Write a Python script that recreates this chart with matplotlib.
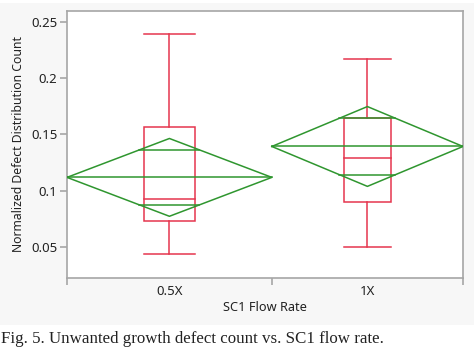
import matplotlib
matplotlib.use("Agg")
import matplotlib.pyplot as plt
from matplotlib.patches import Rectangle
import numpy as np

# quantiles / means per SC1 flow rate group
groups = ["0.5X", "1X"]
group_n = [15, 14]
whisker_lo = [0.044, 0.050]
q1 = [0.0728, 0.0896]
median = [0.0926, 0.129]
q3 = [0.1568, 0.1645]
whisker_hi = [0.2393, 0.2174]
means = [0.1118, 0.1393]
ci_half = [0.0346, 0.0355]

red = '#e5364e'
green = '#2f962f'
grey = '#a6a6a6'

plt.rcParams['font.family'] = ['Noto Sans', 'DejaVu Sans']

fig = plt.figure(figsize=(4.74, 3.48), dpi=100)
fig.patches.append(Rectangle((0, 23 / 348), 1, 322 / 348, transform=fig.transFigure,
                             facecolor='#f7f7f7', edgecolor='none', zorder=-10))
ax = fig.add_axes([67 / 474, 70 / 348, 396 / 474, 267 / 348])
ax.set_facecolor('white')

# group widths proportional to sample size, like a JMP oneway plot
edges = np.concatenate([[0], np.cumsum(group_n)])
centers = (edges[:-1] + edges[1:]) / 2
widths = np.diff(edges)

lw = 1.1
for i in range(len(groups)):
    c, w = centers[i], widths[i]
    bw = 0.25 * w
    # box and whiskers
    ax.add_patch(Rectangle((c - bw / 2, q1[i]), bw, q3[i] - q1[i], fill=False,
                           edgecolor=red, lw=lw, zorder=3))
    ax.plot([c - bw / 2, c + bw / 2], [median[i]] * 2, color=red, lw=lw, zorder=3)
    ax.plot([c, c], [q3[i], whisker_hi[i]], color=red, lw=lw, zorder=3)
    ax.plot([c, c], [whisker_lo[i], q1[i]], color=red, lw=lw, zorder=3)
    ax.plot([c - bw / 2, c + bw / 2], [whisker_hi[i]] * 2, color=red, lw=lw, zorder=3)
    ax.plot([c - bw / 2, c + bw / 2], [whisker_lo[i]] * 2, color=red, lw=lw, zorder=3)

    # means diamond
    x0, x1 = edges[i], edges[i + 1]
    m, h = means[i], ci_half[i]
    ax.plot([x0, c, x1, c, x0], [m, m + h, m, m - h, m], color=green, lw=lw, zorder=4)
    ax.plot([x0, x1], [m, m], color=green, lw=lw, zorder=4)
    # overlap marks
    off = h / np.sqrt(2)
    half = (1 - 1 / np.sqrt(2)) * w / 2
    for s in (1, -1):
        ax.plot([c - half, c + half], [m + s * off] * 2, color=green, lw=lw, zorder=4)

ax.set_xlim(edges[0], edges[-1])
ax.set_ylim(0.0223, 0.2598)
ax.set_xticks(edges)
ax.set_xticklabels([])
ax.set_xticks(centers, minor=True)
ax.set_xticklabels(groups, minor=True)
ax.tick_params(axis='x', which='minor', length=0, pad=5, labelsize=9.5, labelcolor='#222222')
ax.tick_params(axis='x', which='major', length=5, color=grey, width=1.2)
ax.set_yticks([0.05, 0.1, 0.15, 0.2, 0.25])
ax.set_yticklabels(['0.05', '0.1', '0.15', '0.2', '0.25'])
ax.tick_params(axis='y', length=5, color=grey, width=1.2, labelsize=9.5,
               labelcolor='#222222', pad=2)
for sp in ax.spines.values():
    sp.set_color(grey)
    sp.set_linewidth(1.2)

ax.set_xlabel('SC1 Flow Rate', fontsize=9.2, color='#222222', labelpad=2)
ax.set_ylabel('Normalized Defect Distribution Count', fontsize=8.8, color='#222222', labelpad=4)

fig.text(0.002, 5 / 348, 'Fig. 5. Unwanted growth defect count vs. SC1 flow rate.',
         family='Liberation Serif', fontsize=12.2, color='#222222', va='baseline', ha='left')

fig.savefig('out.png', dpi=100, facecolor='white')
